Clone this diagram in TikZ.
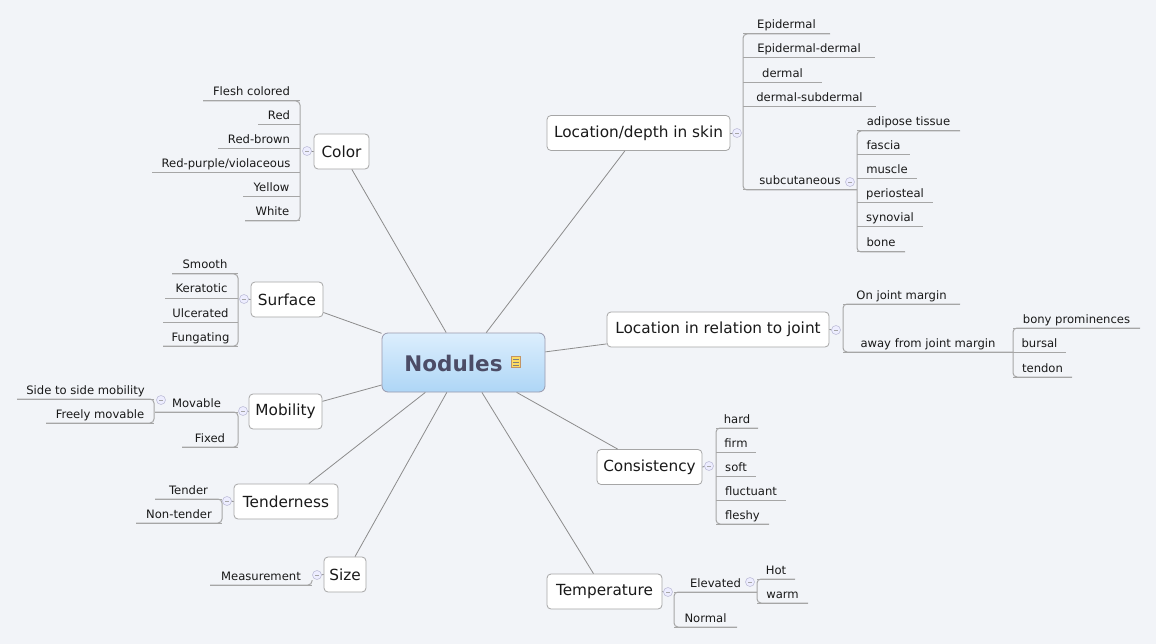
\documentclass[tikz,border=0pt]{standalone}
\usepackage{fontspec}
\setmainfont{DejaVu Sans}
\definecolor{bg}{HTML}{F2F4F8}
\definecolor{ctop}{HTML}{DCEEFD}
\definecolor{cbot}{HTML}{AED6F6}
\begin{document}
\begin{tikzpicture}[x=1pt,y=-1pt,
  conn/.style={draw=black!45, line width=0.8pt},
  ul/.style={draw=black!35, line width=1pt, rounded corners=4pt},
  lt/.style={anchor=base, inner sep=0pt, font=\fontsize{11.6}{13}\selectfont, text=black!90},
  topic/.style={draw=black!35, line width=0.8pt, fill=white, rounded corners=4pt, minimum height=35pt, inner sep=0pt, font=\fontsize{15.3}{17}\selectfont, text=black!90},
  coll/.style={circle, draw=blue!40!black!25, fill=blue!7, line width=0.6pt, minimum size=9pt, inner sep=0pt}]
\fill[bg] (0,0) rectangle (1156,644);
\useasboundingbox (0,0) rectangle (1156,644);
\newcommand{\lf}[5]{\draw[ul] (#2,#4) -- (#3,#4); \node[lt] (#1) at ({(#2+#3)/2},#4-5) {#5};}
\newcommand{\cl}[3]{\node[coll] (#1) at (#2,#3) {}; \draw[black!35, line width=0.6pt] ([xshift=-2pt]#1.center) -- ([xshift=2pt]#1.center);}
% center
\node[draw=blue!20!black!40, line width=0.8pt, rounded corners=6pt, top color=ctop, bottom color=cbot, minimum width=163pt, minimum height=59pt] (nod) at (463.5,362.5) {};
\node[font=\bfseries\fontsize{21.5}{24}\selectfont, text=black!75!blue!40!gray] (nodt) at (453.5,363) {Nodules};
\node[draw=orange!60!black!60, fill=yellow!60!orange!60, minimum width=9pt, minimum height=11pt, inner sep=0pt, line width=0.5pt] (note) at (516,362) {};
\foreach \yy in {359,362,365} \draw[black!50,line width=0.5pt] (513,\yy) -- (519,\yy);
% topics
\node[topic, minimum width=55pt] (color) at (341.5,151.5) {Color};
\node[topic, minimum width=72pt] (surface) at (287,299.5) {Surface};
\node[topic, minimum width=73pt] (mob) at (285.5,411.5) {Mobility};
\node[topic, minimum width=104pt] (tend) at (286,501.5) {Tenderness};
\node[topic, minimum width=42pt] (size) at (345,574.5) {Size};
\node[topic, minimum width=183pt] (loc) at (638.5,133) {Location/depth in skin};
\node[topic, minimum width=222pt] (joint) at (718,329.5) {Location in relation to joint};
\node[topic, minimum width=105pt] (cons) at (649.5,467) {Consistency};
\node[topic, minimum width=115pt] (temp) at (604.5,591.5) {Temperature};
\foreach \t in {color,surface,mob,tend,size,loc,joint,cons,temp}
  \path[conn] (nod) -- (\t);
% Color
\draw[conn] (color.west) -- (304,151);
\cl{cc}{307}{151}
\draw[ul] (203,101) -- (300,101) -- (300,221) -- (245,221);
\lf{c1}{203}{300}{101}{Flesh colored}
\lf{c2}{258}{300}{125}{Red}
\lf{c3}{218}{300}{149}{Red-brown}
\lf{c4}{152}{300}{173}{Red-purple/violaceous}
\lf{c5}{243}{300}{197}{Yellow}
\lf{c6}{245}{300}{221}{White}
% Surface
\draw[conn] (surface.west) -- (247,299);
\cl{cs}{244}{299}
\draw[ul] (172,274) -- (238,274) -- (238,346) -- (163,346);
\lf{s1}{172}{238}{274}{Smooth}
\lf{s2}{165}{238}{298}{Keratotic}
\lf{s3}{163}{238}{322}{Ulcerated}
\lf{s4}{163}{238}{346}{Fungating}
% Mobility
\draw[conn] (mob.west) -- (246,411);
\cl{cm}{243}{411}
\draw[ul] (155,412) -- (238,412) -- (238,447) -- (182,447);
\lf{m1}{155}{238}{412}{Movable}
\lf{m2}{182}{238}{447}{Fixed}
\cl{cmv}{161}{400}
\draw[ul] (17,399) -- (154,399) -- (154,423) -- (46,423);
\lf{m3}{17}{154}{399}{Side to side mobility}
\lf{m4}{46}{154}{423}{Freely movable}
% Tenderness
\draw[conn] (tend.west) -- (230,501);
\cl{ct}{227}{501}
\draw[ul] (155,499) -- (222,499) -- (222,523) -- (136,523);
\lf{t1}{155}{222}{499}{Tender}
\lf{t2}{136}{222}{523}{Non-tender}
% Size
\draw[conn] (size.west) -- (320,575);
\cl{cz}{317}{575}
\draw[ul] (210,585) -- (312,585) -- (312,580);
\lf{z1}{210}{312}{585}{Measurement}
% Location/depth
\draw[conn] (loc.east) -- (734,133);
\cl{cl1}{737}{133}
\draw[ul] (830,34) -- (743,34) -- (743,190) -- (857,190);
\lf{l1}{743}{830}{34}{Epidermal}
\lf{l2}{743}{875}{58}{Epidermal-dermal}
\lf{l3}{743}{822}{83}{dermal}
\lf{l4}{743}{876}{107}{dermal-subdermal}
\lf{l5}{743}{857}{190}{subcutaneous}
\cl{cl2}{850}{182}
\draw[ul] (960,131) -- (857,131) -- (857,252) -- (905,252);
\lf{a1}{857}{960}{131}{adipose tissue}
\lf{a2}{857}{910}{155}{fascia}
\lf{a3}{857}{917}{179}{muscle}
\lf{a4}{857}{933}{203}{periosteal}
\lf{a5}{857}{923}{227}{synovial}
\lf{a6}{857}{905}{252}{bone}
% joint
\draw[conn] (joint.east) -- (833,330);
\cl{cj}{836}{330}
\draw[ul] (960,304) -- (843,304) -- (843,352) -- (1013,352);
\lf{j1}{843}{960}{304}{On joint margin}
\lf{j2}{843}{1013}{352}{away from joint margin}
\draw[ul] (1140,328) -- (1013,328) -- (1013,377) -- (1072,377);
\lf{j3}{1013}{1140}{328}{bony prominences}
\lf{j4}{1013}{1066}{352}{bursal}
\lf{j5}{1013}{1072}{377}{tendon}
% Consistency
\draw[conn] (cons.east) -- (706,466);
\cl{ck}{709}{466}
\draw[ul] (758,428) -- (716,428) -- (716,524) -- (769,524);
\lf{k1}{716}{758}{428}{hard}
\lf{k2}{716}{756}{452}{firm}
\lf{k3}{716}{756}{476}{soft}
\lf{k4}{716}{786}{500}{fluctuant}
\lf{k5}{716}{769}{524}{fleshy}
% Temperature
\draw[conn] (temp.east) -- (665,592);
\cl{cT}{668}{592}
\draw[ul] (757,592) -- (674,592) -- (674,627) -- (737,627);
\lf{e1}{674}{757}{592}{Elevated}
\lf{e2}{674}{737}{627}{Normal}
\cl{cE}{750}{582}
\draw[ul] (795,579) -- (757,579) -- (757,603) -- (808,603);
\lf{e3}{757}{795}{579}{Hot}
\lf{e4}{757}{808}{603}{warm}
\end{tikzpicture}
\end{document}
